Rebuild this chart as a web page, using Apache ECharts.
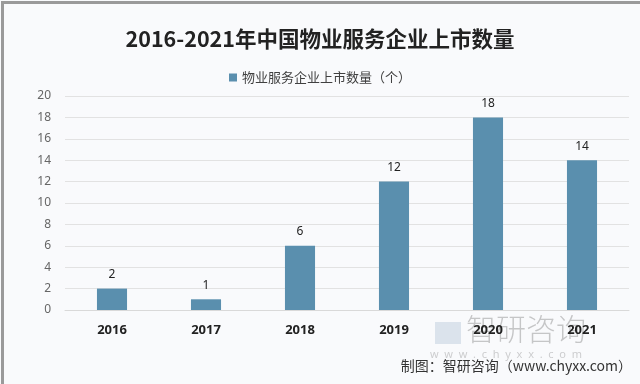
<!DOCTYPE html>
<html><head><meta charset="utf-8">
<script src="https://cdn.jsdelivr.net/npm/echarts@6/dist/echarts.min.js"></script>
<style>html,body{margin:0;padding:0;background:#fff}#c{width:640px;height:384px}</style>
</head><body><div id="c"></div>
<script>
const categories = ['2016','2017','2018','2019','2020','2021'];
const values = [2,1,6,12,18,14];
const seriesName = '物业服务企业上市数量（个）';
const titleText = '2016-2021年中国物业服务企业上市数量';
const yTicks = [0,2,4,6,8,10,12,14,16,18,20];
const footer = '制图：智研咨询（www.chyxx.com）';

const chart = echarts.init(document.getElementById('c'), null, {renderer:'canvas'});
chart.setOption({
  backgroundColor: '#f9fafc',
  animation: false,
  title: {
    text: titleText, left: 'center', top: 23,
    textStyle: {fontFamily: '"Noto Sans CJK SC", sans-serif', fontSize: 21.5, fontWeight: 'bold', color: '#222'}
  },
  legend: {
    top: 66, left: 'center', itemWidth: 8, itemHeight: 8, icon: 'rect', itemGap: 4,
    textStyle: {fontFamily: '"Noto Sans CJK SC", sans-serif', fontSize: 13, color: '#404040'}
  },
  grid: {left: 65, right: 11, top: 96, bottom: 74, containLabel: false},
  xAxis: {
    type: 'category', data: categories,
    axisLine: {lineStyle: {color: '#d9d9d9'}}, axisTick: {show: false},
    axisLabel: {fontFamily: '"Noto Sans", sans-serif', fontSize: 13, fontWeight: 'bold', color: '#222', margin: 14}
  },
  yAxis: {
    type: 'value', min: yTicks[0], max: yTicks[yTicks.length-1], interval: 2,
    axisLine: {show: false}, axisTick: {show: false},
    splitLine: {lineStyle: {color: '#e2e2e2'}},
    axisLabel: {fontFamily: '"Noto Sans", sans-serif', fontSize: 12, color: '#666', margin: 14}
  },
  series: [{
    name: seriesName, type: 'bar', data: values, barWidth: '32%',
    itemStyle: {color: '#5a8fae'},
    label: {show: true, position: 'top', distance: 8, fontFamily: '"Noto Sans", sans-serif', fontSize: 12, color: '#222'}
  }],
  graphic: [
    {type: 'rect', left: 0, top: 0, shape: {width: 640, height: 384}, silent: true,
      style: {fill: 'none', stroke: '#9a9a9a', lineWidth: 3}},
    {type: 'rect', left: 435, top: 322, shape: {width: 26, height: 22}, silent: true,
      style: {fill: 'rgba(150,175,200,0.3)'}},
    {type: 'text', left: 466, top: 314, silent: true,
      style: {text: '智研咨询', fontFamily: '"Noto Sans CJK SC", sans-serif', fontWeight: 300, fontSize: 30, fill: 'rgba(120,120,120,0.4)'}},
    {type: 'text', left: 430, top: 349, silent: true,
      style: {text: 'w  w  w  .  c  h  y  x  x  .  c  o  m', fontFamily: '"Noto Sans", sans-serif', fontSize: 11, fill: 'rgba(120,120,120,0.35)'}},
    {type: 'text', right: 8, top: 359, silent: true,
      style: {text: footer, fontFamily: '"Noto Sans CJK SC", sans-serif', fontSize: 14, fill: '#333'}}
  ]
});
</script></body></html>
